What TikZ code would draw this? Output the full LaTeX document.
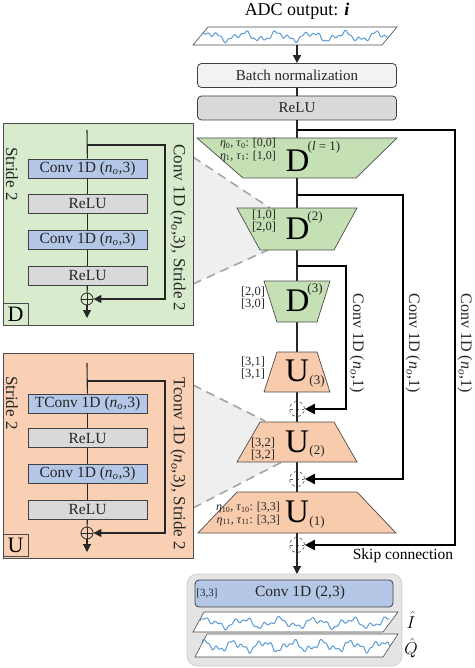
\documentclass[tikz,border=0pt]{standalone}
\usepackage{fontspec}
\setmainfont{Liberation Serif}
\usetikzlibrary{arrows.meta,calc}
\definecolor{gfill}{HTML}{C5E0B4}
\definecolor{gblock}{HTML}{D9EBCD}
\definecolor{ofill}{HTML}{F8CBAD}
\definecolor{oblock}{HTML}{F9D0B4}
\definecolor{bfill}{HTML}{B4C7E7}
\definecolor{rfill}{HTML}{D9D9D9}
\definecolor{nfill}{HTML}{F2F2F2}
\definecolor{outfill}{HTML}{E4E4E4}
\definecolor{wavec}{HTML}{5B9BD5}
\definecolor{zoomfill}{HTML}{EFEFEF}
\definecolor{dashgray}{HTML}{A6A6A6}
\begin{document}
\begin{tikzpicture}[x=1pt,y=-1pt,
  arr/.style={-{Triangle[width=8pt,length=8pt]}},
  sarr/.style={-{Triangle[width=10pt,length=10pt]}},
  cline/.style={line width=1.1pt,draw=black!85},
  skipl/.style={line width=1.8pt,draw=black},
  lbox/.style={draw=black!75,line width=0.8pt,rounded corners=4pt,minimum width=199pt,minimum height=24pt,inner sep=0pt,text=black!85,font=\fontsize{15}{18}\selectfont},
  bbox/.style={draw=black!75,line width=0.8pt,minimum width=119pt,minimum height=19pt,inner sep=0pt,text=black!85,font=\fontsize{15.5}{18}\selectfont},
  trap/.style={draw=black!70,line width=0.7pt},
  bigl/.style={inner sep=0pt,text=black,font=\fontsize{33}{33}\selectfont},
  supl/.style={inner sep=0pt,text=black!85,font=\fontsize{13}{13}\selectfont},
  tagl/.style={inner sep=0pt,align=right,text=black!85,font=\fontsize{12.5}{12}\selectfont},
  etal/.style={inner sep=0pt,align=right,text=black!85,font=\fontsize{12}{12.5}\selectfont},
  rotl/.style={inner sep=0pt,rotate=-90,text=black!85,font=\fontsize{17}{17}\selectfont},
  skiplab/.style={inner sep=0pt,rotate=-90,text=black!85,font=\fontsize{16}{16}\selectfont},
  sumc/.style={circle,draw=black!85,line width=0.8pt,minimum size=12pt,inner sep=0pt,
    path picture={\draw[black!85,line width=0.8pt] (path picture bounding box.north)--(path picture bounding box.south) (path picture bounding box.west)--(path picture bounding box.east);}},
  skc/.style={circle,draw=black!70,dashed,line width=0.6pt,minimum size=15pt,inner sep=0pt,
    path picture={\draw[black!60,line width=0.5pt] (path picture bounding box.west)--(path picture bounding box.east);}},
  wavep/.style={draw=black!70,line width=0.6pt,fill=white},
  wavel/.style={draw=wavec,line width=1pt,line join=round},
  zoomd/.style={draw=dashgray,line width=1.6pt,dash pattern=on 9pt off 6pt},
  blk/.style={draw=black!70,line width=0.8pt},
  tagbox/.style={draw=black!70,line width=0.8pt,minimum width=25pt,minimum height=22pt,inner sep=0pt,font=\fontsize{22}{22}\selectfont}
]
\useasboundingbox (0,0) rectangle (474,668);

% ---------- zoom regions (behind) ----------
\fill[zoomfill] (193,157) -- (270,208) -- (270,250) -- (193,284) -- cycle;
\draw[zoomd] (193,157) -- (270,208);
\draw[zoomd] (193,284) -- (268,250);
\fill[zoomfill] (193,385) -- (265,421) -- (282,462) -- (193,508) -- cycle;
\draw[zoomd] (193,385) -- (265,421);
\draw[zoomd] (193,508) -- (282,462);

% ---------- input ----------
\node[inner sep=0pt,font=\fontsize{18}{18}\selectfont] (title) at (297,11) {ADC output: \textbf{\textit{i}}};
\draw[wavep] (193,45) -- (208,27) -- (397,27) -- (382,45) -- cycle;
\draw[wavel] plot[domain=0:1,samples=170] ({202+186*\x},{36.5-3.3*sin(\x*2000)-2*sin(\x*4700+40)-1.3*sin(\x*10300+80)});
\coordinate (w1b) at (297,45);
\node[lbox,fill=nfill] (bn) at (297,75.5) {Batch normalization};
\node[lbox,fill=rfill] (relu0) at (297,108) {ReLU};
\draw[cline,arr] (w1b) -- (bn);
\draw[cline] (bn) -- (relu0);

% ---------- trapezoid corner coordinates ----------
\coordinate (d1t) at (297,138); \coordinate (d1b) at (297,178);
\coordinate (d2t) at (297,208); \coordinate (d2b) at (297,250);
\coordinate (d3t) at (297,281); \coordinate (d3b) at (297,322);
\coordinate (u3t) at (297,352); \coordinate (u3b) at (297,392);
\coordinate (u2t) at (297,422); \coordinate (u2b) at (297,462);
\coordinate (u1t) at (297,492); \coordinate (u1b) at (297,533);
\coordinate (sk1) at (297,130); \coordinate (sk1r) at (455,130);
\coordinate (sk2) at (297,195); \coordinate (sk2r) at (403,195);
\coordinate (sk3) at (297,266); \coordinate (sk3r) at (346,266);

% skip circles
\node[skc] (c1) at (297,409) {};
\node[skc] (c2) at (297,479) {};
\node[skc] (c3) at (297,545) {};

% center line
\draw[cline] (relu0) -- (d1t);
\draw[cline] (d1b) -- (d2t);
\draw[cline] (d2b) -- (d3t);
\draw[cline] (d3b) -- (u3t);
\draw[cline] (u3b) -- (u2t);
\draw[cline] (u2b) -- (u1t);

% trapezoids
\draw[trap,fill=gfill] (197,138) -- (397,138) -- (356,178) -- (243,178) -- cycle;
\draw[trap,fill=gfill] (237,208) -- (357,208) -- (334,250) -- (260,250) -- cycle;
\draw[trap,fill=gfill] (264,281) -- (330,281) -- (317,322) -- (277,322) -- cycle;
\draw[trap,fill=ofill] (277,352) -- (317,352) -- (330,392) -- (264,392) -- cycle;
\draw[trap,fill=ofill] (260,422) -- (334,422) -- (357,462) -- (237,462) -- cycle;
\draw[trap,fill=ofill] (237,492) -- (357,492) -- (396,533) -- (198,533) -- cycle;

% trapezoid labels
\node[bigl] (D1) at (297.5,161) {D};
\node[supl] (D1s) at (324,147) {(\textit{l} = 1)};
\node[etal] (D1t) at (248,150) {\textit{η}\textsubscript{0}, \textit{τ}\textsubscript{0}: [0,0]\\{}\textit{η}\textsubscript{1}, \textit{τ}\textsubscript{1}: [1,0]};
\node[bigl] (D2) at (297.5,229) {D};
\node[supl] (D2s) at (315,217) {(2)};
\node[tagl] (D2t) at (264,221) {{[1,0]}\\{[2,0]}};
\node[bigl] (D3) at (297.5,301) {D};
\node[supl] (D3s) at (315,289) {(3)};
\node[tagl] (D3t) at (253,298) {{[2,0]}\\{[3,0]}};
\node[bigl] (U3) at (297,371) {U};
\node[supl] (U3s) at (317,381) {(3)};
\node[tagl] (U3t) at (253,368) {{[3,1]}\\{[3,1]}};
\node[bigl] (U2) at (297,442) {U};
\node[supl] (U2s) at (317,451) {(2)};
\node[tagl] (U2t) at (263,449) {{[3,2]}\\{[3,2]}};
\node[bigl] (U1) at (297,512) {U};
\node[supl] (U1s) at (317,522) {(1)};
\node[etal] (U1t) at (248,514) {\textit{η}\textsubscript{10}, \textit{τ}\textsubscript{10}: [3,3]\\{}\textit{η}\textsubscript{11}, \textit{τ}\textsubscript{11}: [3,3]};

% skip connections
\draw[skipl,sarr] (sk1) -- (sk1r) |- (c3);
\draw[skipl,sarr] (sk2) -- (sk2r) |- (c2);
\draw[skipl,sarr] (sk3) -- (sk3r) |- (c1);
\node[skiplab] (s3l) at (357,343) {Conv 1D (\textit{n}\textsubscript{\textit{o}},1)};
\node[skiplab] (s2l) at (413,343) {Conv 1D (\textit{n}\textsubscript{\textit{o}},1)};
\node[skiplab] (s1l) at (465,343) {Conv 1D (\textit{n}\textsubscript{\textit{o}},1)};
\node[inner sep=0pt,font=\fontsize{15.5}{16}\selectfont] (skt) at (403,556) {Skip connection};

% ---------- output ----------
\draw[black!20,line width=0.6pt,fill=outfill,rounded corners=10pt] (187,574) rectangle (402,666);
\coordinate (outtop) at (297,574);
\draw[cline,arr] (u1b) -- (outtop);
\node[draw=black!75,line width=0.8pt,fill=bfill,rounded corners=4pt,minimum width=198pt,minimum height=27pt,inner sep=0pt] (convo) at (294,593.5) {};
\node[inner sep=0pt,font=\fontsize{15.5}{16}\selectfont,text=black!85] (convot) at (300,593) {Conv 1D (2,3)};
\node[inner sep=0pt,font=\fontsize{11}{11}\selectfont,text=black!85] (convotag) at (207,594) {[3,3]};
\draw[wavep] (193,632) -- (204,612) -- (398,612) -- (383,632) -- cycle;
\draw[wavel] plot[domain=0:1,samples=170] ({200+190*\x},{623-3.5*sin(\x*1900+20)-2.2*sin(\x*4500)-1.4*sin(\x*9700+60)});
\draw[wavep] (195,657) -- (207,634) -- (398,634) -- (383,657) -- cycle;
\draw[wavel] plot[domain=0:1,samples=170] ({202+188*\x},{646-3.7*sin(\x*2300+60)-2.3*sin(\x*5200+10)-1.5*sin(\x*11000)});
\node[inner sep=0pt,font=\fontsize{16}{16}\selectfont] (ihat) at (411,620) {$\hat{I}$};
\node[inner sep=0pt,font=\fontsize{16}{16}\selectfont] (qhat) at (411,648) {$\hat{Q}$};

% ---------- D block ----------
\draw[blk,fill=gblock] (3,123) rectangle (193,325);
\node[tagbox] (dtag) at (15.5,314) {D};
\coordinate (dtop) at (87,130);
\coordinate (dsk) at (87,145);
\coordinate (dskr) at (165,145);
\coordinate (dout) at (87,318);
\node[bbox,fill=bfill] (dc1) at (87.5,168.5) {Conv 1D (\textit{n}\textsubscript{\textit{o}},3)};
\node[bbox,fill=rfill] (dr1) at (87.5,204) {ReLU};
\node[bbox,fill=bfill] (dc2) at (87.5,240) {Conv 1D (\textit{n}\textsubscript{\textit{o}},3)};
\node[bbox,fill=rfill] (dr2) at (87.5,275.5) {ReLU};
\node[sumc] (dsum) at (87,299) {};
\draw[cline] (dtop) -- (dc1);
\draw[cline] (dc1) -- (dr1);
\draw[cline] (dr1) -- (dc2);
\draw[cline] (dc2) -- (dr2);
\draw[cline] (dr2) -- (dsum);
\draw[cline,arr] (dsum) -- (dout);
\draw[cline,arr] (dsk) -- (dskr) |- (dsum);
\node[rotl] (dstr) at (12,174) {Stride 2};
\node[rotl] (dlab) at (178,228) {Conv 1D (\textit{n}\textsubscript{\textit{o}},3), Stride 2};

% ---------- U block ----------
\draw[blk,fill=oblock] (3,353) rectangle (193,558);
\node[tagbox] (utag) at (15.5,545.5) {U};
\coordinate (utop) at (87,363);
\coordinate (usk) at (87,381);
\coordinate (uskr) at (165,381);
\coordinate (uout) at (87,552);
\node[bbox,fill=bfill] (uc1) at (87.5,403.5) {TConv 1D (\textit{n}\textsubscript{\textit{o}},3)};
\node[bbox,fill=rfill] (ur1) at (87.5,438) {ReLU};
\node[bbox,fill=bfill] (uc2) at (87.5,473.5) {Conv 1D (\textit{n}\textsubscript{\textit{o}},3)};
\node[bbox,fill=rfill] (ur2) at (87.5,509.5) {ReLU};
\node[sumc] (usum) at (87,533) {};
\draw[cline] (utop) -- (uc1);
\draw[cline] (uc1) -- (ur1);
\draw[cline] (ur1) -- (uc2);
\draw[cline] (uc2) -- (ur2);
\draw[cline] (ur2) -- (usum);
\draw[cline,arr] (usum) -- (uout);
\draw[cline,arr] (usk) -- (uskr) |- (usum);
\node[rotl] (ustr) at (12,403) {Stride 2};
\node[rotl] (ulab) at (178,464) {Tconv 1D (\textit{n}\textsubscript{\textit{o}},3), Stride 2};
\end{tikzpicture}
\end{document}
